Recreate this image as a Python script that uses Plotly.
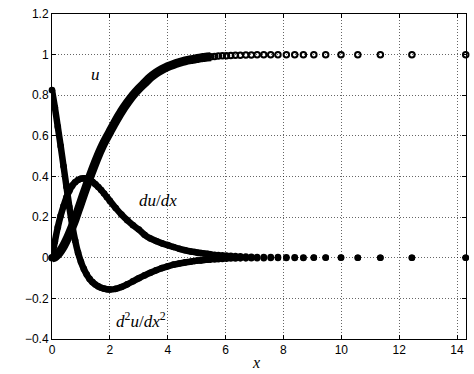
import plotly.graph_objects as go

# ---- data ----
x = [0, 0.1, 0.2, 0.3, 0.4, 0.5, 0.6, 0.7, 0.8, 0.9, 1.0, 1.1, 1.2, 1.3, 1.4, 1.5, 1.6, 1.7, 1.8, 1.9, 2.0,
     2.2, 2.4, 2.6, 2.8, 3.0, 3.2, 3.4, 3.6, 3.8, 4.0, 4.2, 4.4, 4.6, 4.8,
     4.93, 5.03, 5.14, 5.25, 5.37, 5.49, 5.62, 5.75, 5.89,
     6.03, 6.18, 6.34, 6.51, 6.70, 6.89, 7.09, 7.32, 7.56, 7.81, 8.10, 8.39, 8.69, 9.05, 9.46, 9.99,
     10.57, 11.35, 12.44, 14.30]

u = [0, 0.004, 0.016, 0.035, 0.058, 0.086, 0.118, 0.153, 0.19, 0.232, 0.273, 0.315, 0.355, 0.395, 0.433,
     0.47, 0.505, 0.537, 0.567, 0.594, 0.62,
     0.672, 0.72, 0.762, 0.8, 0.832, 0.86, 0.888, 0.91, 0.927, 0.941, 0.952, 0.961, 0.969, 0.975,
     0.978, 0.981, 0.984, 0.986, 0.988, 0.99, 0.991, 0.993, 0.994,
     0.995, 0.996, 0.997, 0.997, 0.998, 0.998, 0.999, 0.999, 0.999, 1, 1, 1, 1, 1, 1, 1,
     1, 1, 1, 1]

dudx = [0, 0.08, 0.15, 0.207, 0.255, 0.297, 0.33, 0.355, 0.372, 0.383, 0.389, 0.391, 0.389, 0.383, 0.374,
        0.362, 0.348, 0.333, 0.316, 0.298, 0.28,
        0.245, 0.213, 0.185, 0.16, 0.139, 0.113, 0.095, 0.082, 0.071, 0.062, 0.053, 0.044, 0.037, 0.031,
        0.028, 0.025, 0.023, 0.021, 0.019, 0.017, 0.015, 0.013, 0.012,
        0.011, 0.009, 0.008, 0.007, 0.006, 0.005, 0.004, 0.004, 0.003, 0.003, 0.002, 0.002, 0.001, 0.001, 0.001, 0.001,
        0, 0, 0, 0]

d2udx2 = [0.825, 0.74, 0.645, 0.55, 0.45, 0.35, 0.25, 0.16, 0.085, 0.025, -0.02, -0.055, -0.083, -0.104, -0.12,
          -0.132, -0.141, -0.148, -0.152, -0.155, -0.156,
          -0.153, -0.144, -0.131, -0.116, -0.101, -0.087, -0.074, -0.062, -0.051, -0.042, -0.034, -0.028, -0.023, -0.019,
          -0.016, -0.014, -0.013, -0.011, -0.01, -0.009, -0.008, -0.007, -0.006,
          -0.005, -0.004, -0.004, -0.003, -0.003, -0.002, -0.002, -0.002, -0.001, -0.001, -0.001, -0.001, -0.001, 0, 0, 0,
          0, 0, 0, 0]

xticks = [0, 2, 4, 6, 8, 10, 12, 14]
yticks = [-0.4, -0.2, 0, 0.2, 0.4, 0.6, 0.8, 1, 1.2]
yticktext = ["\u22120.4", "\u22120.2", "0", "0.2", "0.4", "0.6", "0.8", "1", "1.2"]

# dense part where markers merge into a solid band
ncont = sum(1 for v in x if v <= 5.5)

fig = go.Figure()
for ys, w in [(u, 9), (dudx, 6.5), (d2udx2, 6.5)]:
    fig.add_trace(go.Scatter(x=x[:ncont], y=ys[:ncont], mode="lines",
                             line=dict(color="black", width=w, shape="spline", smoothing=0.8),
                             showlegend=False, hoverinfo="skip"))
fig.add_trace(go.Scatter(x=x, y=u, mode="markers", cliponaxis=False,
                         marker=dict(symbol="circle-open", size=5.5, color="black",
                                     line=dict(color="black", width=2)),
                         showlegend=False))
fig.add_trace(go.Scatter(x=x, y=dudx, mode="markers", cliponaxis=False,
                         marker=dict(symbol="circle", size=6.6, color="black"),
                         showlegend=False))
fig.add_trace(go.Scatter(x=x, y=d2udx2, mode="markers", cliponaxis=False,
                         marker=dict(symbol="circle", size=6.6, color="black"),
                         showlegend=False))

lab_font = dict(family="Liberation Serif, Times New Roman, serif", size=17, color="black")
fig.add_annotation(x=1.49, y=0.90, xref="x", yref="y", text="<i>u</i>", showarrow=False, font=lab_font)
fig.add_annotation(x=3.66, y=0.28, xref="x", yref="y", text="<i>du</i>/<i>dx</i>", showarrow=False, font=lab_font)
fig.add_annotation(x=3.09, y=-0.305, xref="x", yref="y",
                   text="<i>d</i><sup>2</sup><i>u</i>/<i>dx</i><sup>2</sup>", showarrow=False, font=lab_font)
fig.add_annotation(x=0.492, y=-0.073, xref="paper", yref="paper", text="<i>x</i>", showarrow=False,
                   font=dict(family="Liberation Serif, Times New Roman, serif", size=16, color="black"),
                   yanchor="middle")

axis_common = dict(showline=True, linecolor="black", linewidth=1, mirror="allticks",
                   ticks="inside", ticklen=4, tickcolor="black", tickwidth=1,
                   showgrid=True, gridcolor="rgba(0,0,0,0.6)", griddash="1px,2px", gridwidth=1,
                   zeroline=False,
                   tickfont=dict(family="Liberation Sans, Arial, sans-serif", size=12, color="black"))

fig.update_xaxes(range=[0, 14.31], tickvals=xticks, ticktext=[str(v) for v in xticks], **axis_common)
fig.update_yaxes(range=[-0.4, 1.2], tickvals=yticks, ticktext=yticktext, **axis_common)

fig.update_layout(width=474, height=374, margin=dict(l=52, r=7, t=11, b=35),
                  paper_bgcolor="white", plot_bgcolor="white")

fig.write_html("out.html")
